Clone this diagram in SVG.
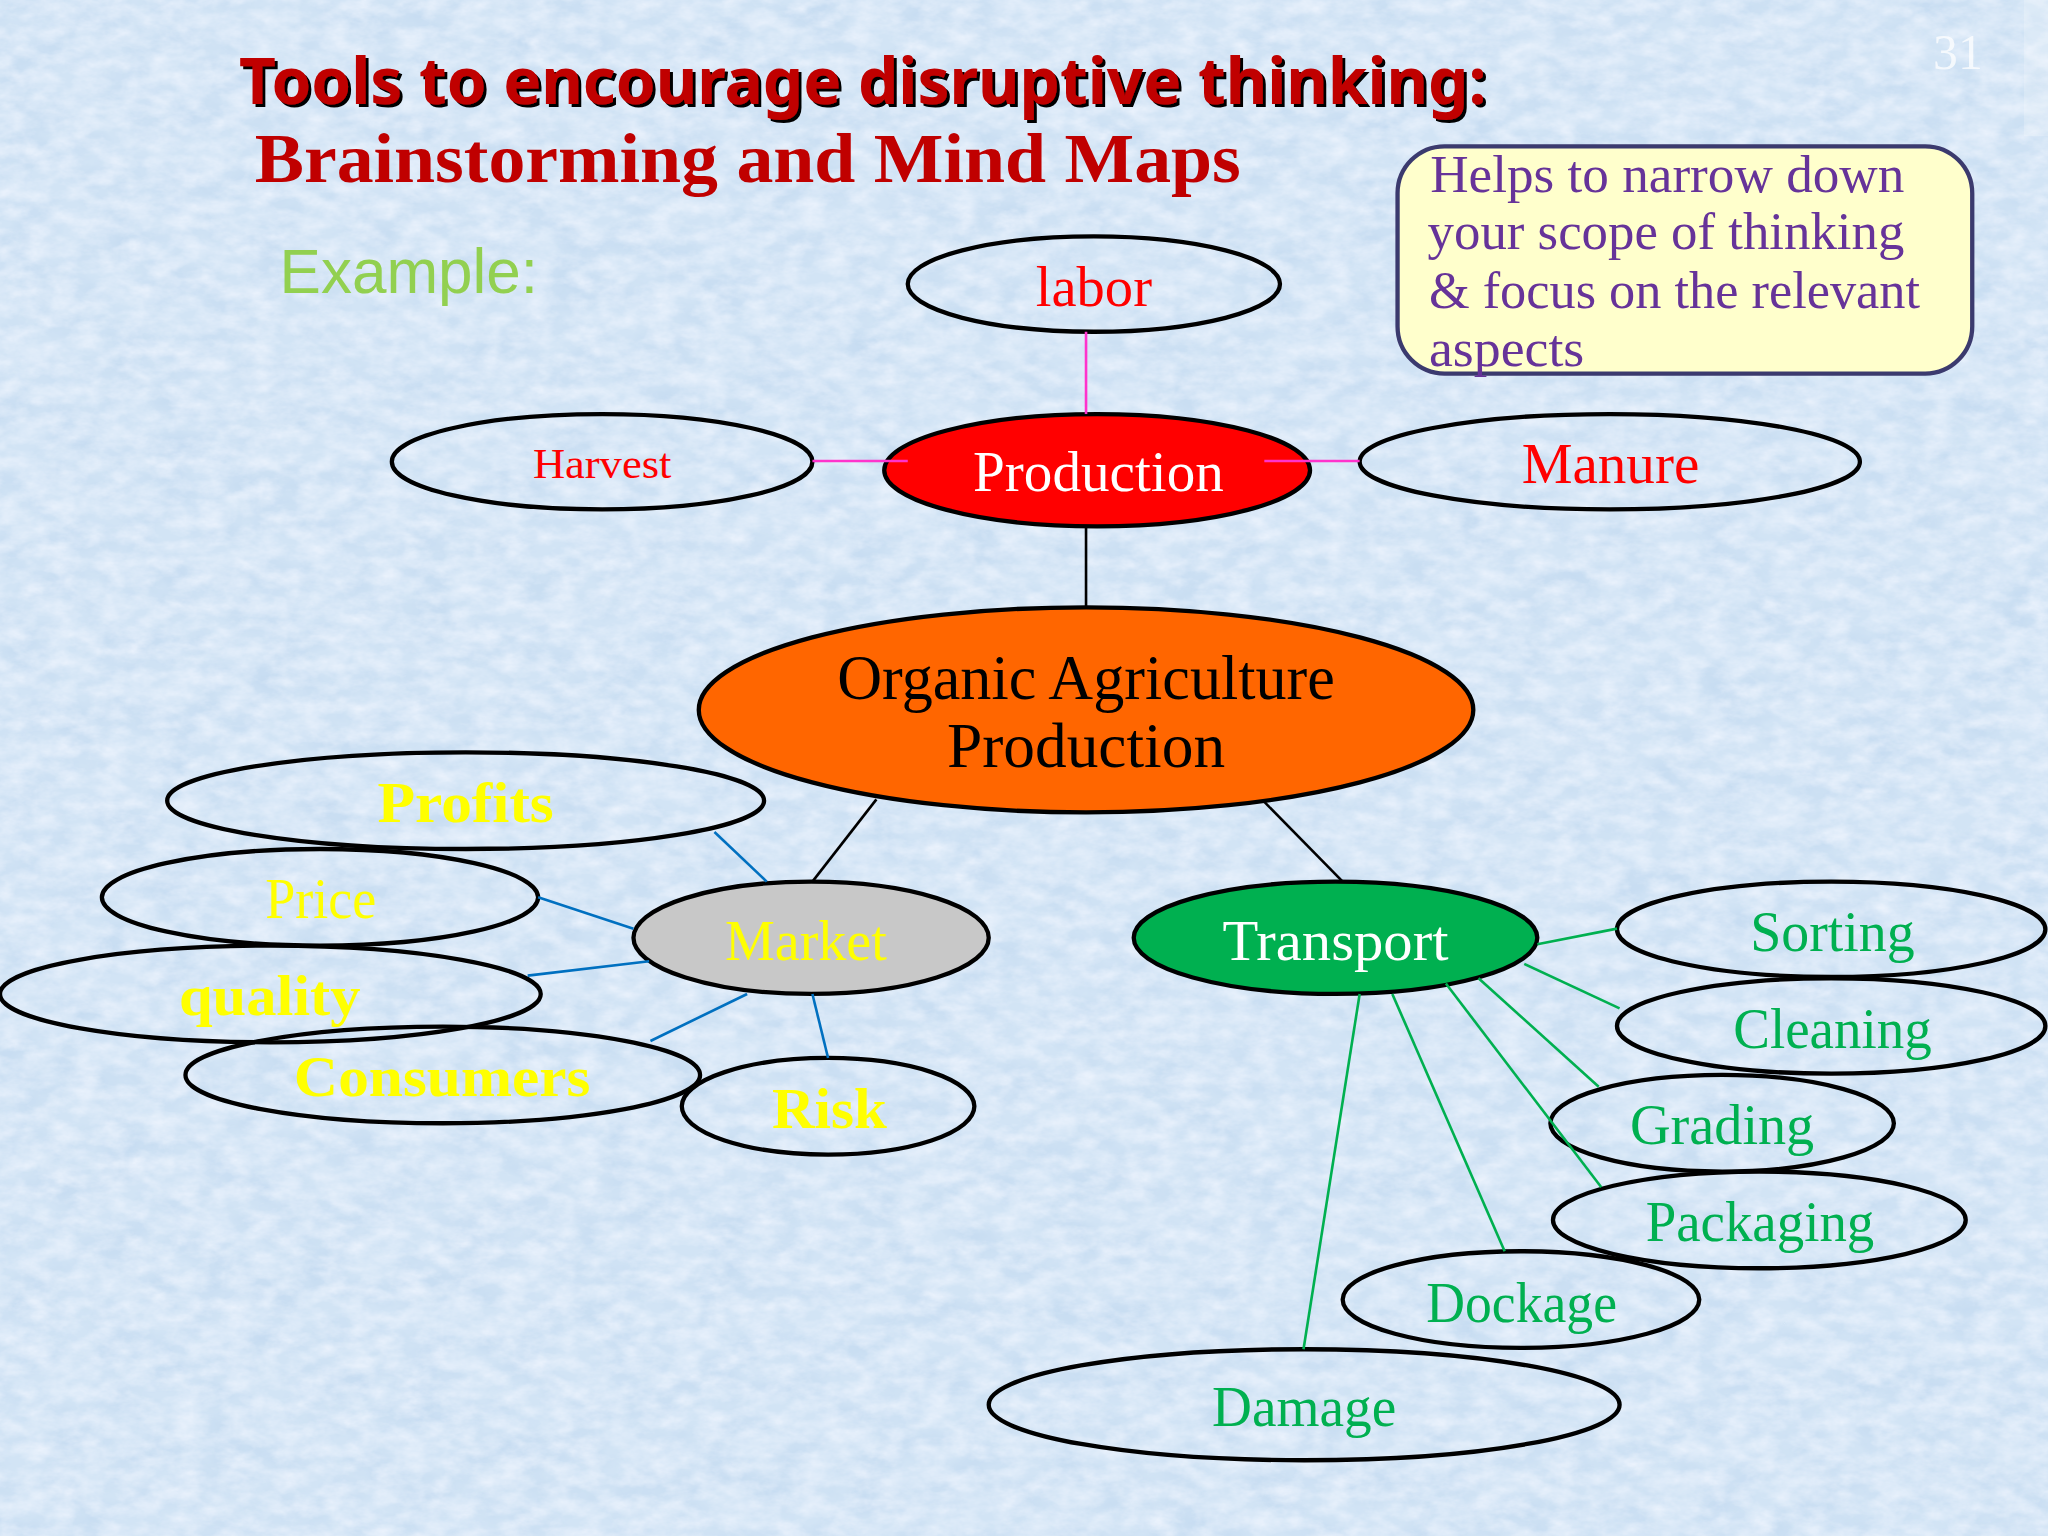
<svg xmlns="http://www.w3.org/2000/svg" width="2048" height="1536" viewBox="0 0 2048 1536">
<style>
.n{fill:none;stroke:#000;stroke-width:3.3}
.t{font-family:"Liberation Serif","DejaVu Serif",serif;font-size:44px;text-anchor:start}
.b{font-weight:bold}
.r{fill:#f00}.y{fill:#ff0}.g{fill:#00b050}.w{fill:#fff}.k{fill:#000}.p{fill:#663399;font-size:41px}
.c line{stroke-width:2}
.m line{stroke:#f3c}
.bk line{stroke:#000}
.bl line{stroke:#0070c0}
.gr line{stroke:#00b050}
</style>
<defs>
<filter id="tex" x="0" y="0" width="100%" height="100%" color-interpolation-filters="sRGB">
<feTurbulence type="fractalNoise" baseFrequency="0.02 0.03" numOctaves="5" seed="7"/>
<feColorMatrix type="matrix" values="0 0 0 0 0.76  0 0 0 0 0.85  0 0 0 0 0.94  1.4 0 0 0 -0.5"/>
</filter>
<filter id="tex2" x="0" y="0" width="100%" height="100%" color-interpolation-filters="sRGB">
<feTurbulence type="fractalNoise" baseFrequency="0.04 0.07" numOctaves="4" seed="21"/>
<feColorMatrix type="matrix" values="0 0 0 0 0.92  0 0 0 0 0.95  0 0 0 0 0.99  0 1.6 0 0 -0.5"/>
</filter>
<filter id="sh" x="-5%" y="-20%" width="110%" height="140%"><feOffset dx="2.5" dy="2.5" in="SourceAlpha"/><feMerge><feMergeNode/><feMergeNode in="SourceGraphic"/></feMerge></filter>
</defs>
<g id="background">
<rect width="2048" height="1536" fill="#d2e4f5"/>
<rect width="2048" height="1536" filter="url(#tex)"/>
<rect width="2048" height="1536" filter="url(#tex2)"/>
<rect x="2024" y="0" width="24" height="136" fill="#fff" fill-opacity="0.22"/>
</g>
<g transform="scale(1.30612)">
<g id="title">
<text x="183" y="80" font-family="'Noto Sans','DejaVu Sans',sans-serif" font-weight="bold" font-size="50" fill="#c00000" textLength="955" lengthAdjust="spacingAndGlyphs" filter="url(#sh)">Tools to encourage disruptive thinking:</text>
<text class="t b" x="195" y="139" style="font-size:53px" fill="#c00000" textLength="755" lengthAdjust="spacingAndGlyphs">Brainstorming and Mind Maps</text>
<text x="214" y="224" font-family="'Liberation Sans',Arial,sans-serif" font-size="48" fill="#92d050" textLength="198" lengthAdjust="spacingAndGlyphs">Example:</text>
<text class="t" x="1480" y="53" style="font-size:38px" fill="#fff" fill-opacity="0.75" textLength="38">31</text>
</g>
<g id="callout">
<rect x="1070" y="112" width="440" height="174" rx="36" ry="36" fill="#ffffcc" stroke="#3b3a6e" stroke-width="3.3"/>
<text class="t p" x="1095" y="147" textLength="363" lengthAdjust="spacingAndGlyphs">Helps to narrow down</text>
<text class="t p" x="1093" y="191" textLength="365" lengthAdjust="spacingAndGlyphs">your scope of thinking</text>
<text class="t p" x="1094" y="236" textLength="376" lengthAdjust="spacingAndGlyphs">&amp; focus on the relevant</text>
<text class="t p" x="1094" y="280" textLength="119" lengthAdjust="spacingAndGlyphs">aspects</text>
</g>
<g id="node-labor"><ellipse class="n" cx="837.5" cy="217.5" rx="142.5" ry="36.5"/><text class="t r" x="793" y="234" textLength="89" lengthAdjust="spacingAndGlyphs">labor</text></g>
<g id="node-production"><ellipse class="n" cx="840" cy="360" rx="163" ry="43" style="fill:#f00"/><text class="t w" x="745" y="376" textLength="192" lengthAdjust="spacingAndGlyphs">Production</text></g>
<g id="node-harvest"><ellipse class="n" cx="461" cy="353.5" rx="161" ry="36.5"/><text class="t r" style="font-size:33px" x="408" y="366" textLength="106" lengthAdjust="spacingAndGlyphs">Harvest</text></g>
<g id="node-manure"><ellipse class="n" cx="1232.5" cy="353.5" rx="191.5" ry="36.5"/><text class="t r" x="1165" y="370" textLength="136" lengthAdjust="spacingAndGlyphs">Manure</text></g>
<g id="node-organic"><ellipse class="n" cx="831.5" cy="543.5" rx="296.5" ry="78.5" style="fill:#f60"/><text class="t k" style="font-size:48px" x="641" y="535" textLength="381" lengthAdjust="spacingAndGlyphs">Organic Agriculture</text><text class="t k" style="font-size:48px" x="725" y="587" textLength="213" lengthAdjust="spacingAndGlyphs">Production</text></g>
<g id="node-market"><ellipse class="n" cx="621" cy="718" rx="136" ry="43" style="fill:#c8c8c8"/><text class="t y" x="555" y="735" textLength="124" lengthAdjust="spacingAndGlyphs">Market</text></g>
<g id="node-transport"><ellipse class="n" cx="1022.5" cy="718" rx="154.5" ry="43" style="fill:#00b050"/><text class="t w" x="936" y="735" textLength="173" lengthAdjust="spacingAndGlyphs">Transport</text></g>
<g id="node-profits"><ellipse class="n" cx="356.5" cy="613" rx="228.5" ry="37"/><text class="t y b" x="289" y="629" textLength="135" lengthAdjust="spacingAndGlyphs">Profits</text></g>
<g id="node-price"><ellipse class="n" cx="245" cy="687" rx="167" ry="37"/><text class="t y" x="203" y="703" textLength="85" lengthAdjust="spacingAndGlyphs">Price</text></g>
<g id="node-quality"><ellipse class="n" cx="207" cy="761" rx="207" ry="37"/><text class="t y b" x="137" y="777" textLength="139" lengthAdjust="spacingAndGlyphs">quality</text></g>
<g id="node-consumers"><ellipse class="n" cx="339" cy="823" rx="197" ry="37"/><text class="t y b" x="225" y="839" textLength="227" lengthAdjust="spacingAndGlyphs">Consumers</text></g>
<g id="node-risk"><ellipse class="n" cx="634" cy="847" rx="112" ry="37"/><text class="t y b" x="591" y="864" textLength="88" lengthAdjust="spacingAndGlyphs">Risk</text></g>
<g id="node-sorting"><ellipse class="n" cx="1402" cy="711.5" rx="164" ry="36.5"/><text class="t g" x="1340" y="728" textLength="126" lengthAdjust="spacingAndGlyphs">Sorting</text></g>
<g id="node-cleaning"><ellipse class="n" cx="1402" cy="785.5" rx="164" ry="36.5"/><text class="t g" x="1327" y="802" textLength="152" lengthAdjust="spacingAndGlyphs">Cleaning</text></g>
<g id="node-grading"><ellipse class="n" cx="1318.5" cy="860" rx="131.5" ry="37"/><text class="t g" x="1248" y="876" textLength="141" lengthAdjust="spacingAndGlyphs">Grading</text></g>
<g id="node-packaging"><ellipse class="n" cx="1347" cy="934" rx="158" ry="37"/><text class="t g" x="1260" y="950" textLength="175" lengthAdjust="spacingAndGlyphs">Packaging</text></g>
<g id="node-dockage"><ellipse class="n" cx="1164.5" cy="995" rx="136.5" ry="37"/><text class="t g" x="1092" y="1012" textLength="146" lengthAdjust="spacingAndGlyphs">Dockage</text></g>
<g id="node-damage"><ellipse class="n" cx="998.5" cy="1075.5" rx="241.5" ry="42.5"/><text class="t g" x="928" y="1092" textLength="141" lengthAdjust="spacingAndGlyphs">Damage</text></g>
<g id="connectors" class="c">
<g class="m"><line x1="831.5" y1="254" x2="831.5" y2="317"/><line x1="622" y1="353" x2="695" y2="353"/><line x1="968" y1="353" x2="1041" y2="353"/></g>
<g class="bk"><line x1="831.5" y1="403" x2="831.5" y2="465"/><line x1="671" y1="612" x2="622" y2="675"/><line x1="968" y1="614" x2="1028" y2="675"/></g>
<g class="bl"><line x1="547" y1="637" x2="587" y2="675"/><line x1="412" y1="687" x2="485" y2="711"/><line x1="404" y1="747" x2="497" y2="736"/><line x1="498" y1="797" x2="572" y2="761"/><line x1="622" y1="761" x2="634" y2="810"/></g>
<g class="gr"><line x1="1177" y1="723" x2="1238" y2="711"/><line x1="1167" y1="738" x2="1240" y2="772"/><line x1="1132" y1="749" x2="1224" y2="832"/><line x1="1107" y1="753" x2="1226" y2="909"/><line x1="1066" y1="761" x2="1152" y2="958"/><line x1="1041" y1="761" x2="998" y2="1033"/></g>
</g>
</g>
</svg>
